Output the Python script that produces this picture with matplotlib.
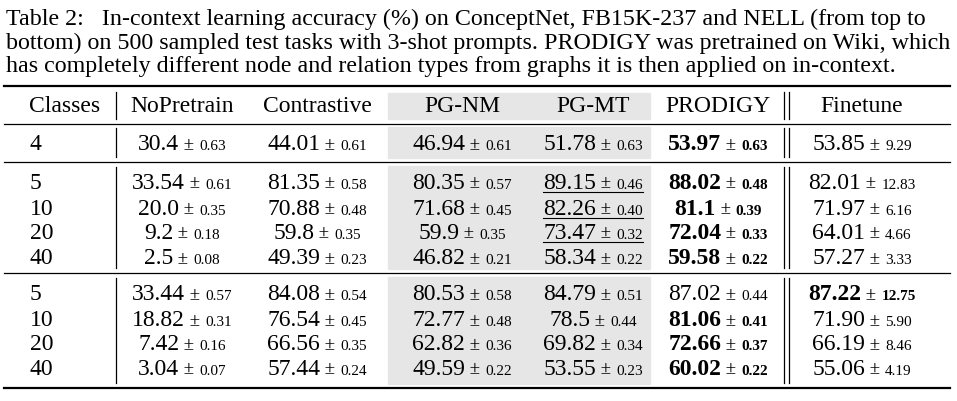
import matplotlib.pyplot as plt
from matplotlib.lines import Line2D
from matplotlib.patches import Rectangle

plt.rcParams['font.family'] = ['Liberation Serif', 'DejaVu Serif']

caption = [
    "Table 2:   In-context learning accuracy (%) on ConceptNet, FB15K-237 and NELL (from top to",
    "bottom) on 500 sampled test tasks with 3-shot prompts. PRODIGY was pretrained on Wiki, which",
    "has completely different node and relation types from graphs it is then applied on in-context.",
]
columns = ["NoPretrain", "Contrastive", "PG-NM", "PG-MT", "PRODIGY", "Finetune"]
classes = [["4"], ["5", "10", "20", "40"], ["5", "10", "20", "40"]]
means = [
    [["30.4", "44.01", "46.94", "51.78", "53.97", "53.85"]],
    [["33.54", "81.35", "80.35", "89.15", "88.02", "82.01"],
     ["20.0", "70.88", "71.68", "82.26", "81.1", "71.97"],
     ["9.2", "59.8", "59.9", "73.47", "72.04", "64.01"],
     ["2.5", "49.39", "46.82", "58.34", "59.58", "57.27"]],
    [["33.44", "84.08", "80.53", "84.79", "87.02", "87.22"],
     ["18.82", "76.54", "72.77", "78.5", "81.06", "71.90"],
     ["7.42", "66.56", "62.82", "69.82", "72.66", "66.19"],
     ["3.04", "57.44", "49.59", "53.55", "60.02", "55.06"]],
]
stds = [
    [["0.63", "0.61", "0.61", "0.63", "0.63", "9.29"]],
    [["0.61", "0.58", "0.57", "0.46", "0.48", "12.83"],
     ["0.35", "0.48", "0.45", "0.40", "0.39", "6.16"],
     ["0.18", "0.35", "0.35", "0.32", "0.33", "4.66"],
     ["0.08", "0.23", "0.21", "0.22", "0.22", "3.33"]],
    [["0.57", "0.54", "0.58", "0.51", "0.44", "12.75"],
     ["0.31", "0.45", "0.48", "0.44", "0.41", "5.90"],
     ["0.16", "0.35", "0.36", "0.34", "0.37", "8.46"],
     ["0.07", "0.24", "0.22", "0.23", "0.22", "4.19"]],
]
# (group, row, col) flags
bold = {(0, 0, 4), (1, 0, 4), (1, 1, 4), (1, 2, 4), (1, 3, 4),
        (2, 0, 5), (2, 1, 4), (2, 2, 4), (2, 3, 4)}
underline = {(1, 0, 3), (1, 1, 3), (1, 2, 3)}

W, H = 957, 401
fig = plt.figure(figsize=(W / 100, H / 100), dpi=100)
ax = fig.add_axes([0, 0, 1, 1])
ax.set_xlim(0, W)
ax.set_ylim(H, 0)
ax.axis('off')
r = fig.canvas.get_renderer()

def width(t):
    return t.get_window_extent(renderer=r).width

for i, line in enumerate(caption):
    ax.text(6, 17 + i * 23.5, line, fontsize=17.3, va='center_baseline', ha='left')

col_x = [182, 317, 462, 593, 718, 862]
header_y = 104
group_y = [[142], [181, 207, 231, 256], [292, 318, 342, 367]]
rules = [(86, 1.6), (124, 0.9), (162, 0.9), (273, 0.9), (388, 1.6)]

# gray background for PG columns
for y0, y1 in [(93, 119), (127, 158), (166, 269), (277, 384)]:
    ax.add_patch(Rectangle((388, y0), 262, y1 - y0, color='#e6e6e6', zorder=0))

for y, lw in rules:
    ax.add_line(Line2D([4, 950], [y, y], color='black', lw=lw))

# vertical separators
for y0, y1 in [(92, 119), (128, 157), (167, 268), (278, 383)]:
    ax.add_line(Line2D([116, 116], [y0, y1], color='black', lw=0.9))
    ax.add_line(Line2D([784, 784], [y0, y1], color='black', lw=0.9))
    ax.add_line(Line2D([789, 789], [y0, y1], color='black', lw=0.9))

ax.text(65, header_y, "Classes", fontsize=17, ha='center', va='center_baseline')
for x, c in zip(col_x, columns):
    ax.text(x, header_y, c, fontsize=17, ha='center', va='center_baseline')

for g in range(3):
    for ri, y in enumerate(group_y[g]):
        ax.text(30, y, classes[g][ri], fontsize=17, ha='left', va='center_baseline')
        for ci, x in enumerate(col_x):
            fw = 'bold' if (g, ri, ci) in bold else 'normal'
            t1 = ax.text(0, y, means[g][ri][ci], fontsize=17, fontweight=fw,
                         ha='left', va='center_baseline')
            t2 = ax.text(0, y + 1, " \u00b1 ", fontsize=13.5, ha='left', va='center_baseline')
            t3 = ax.text(0, y + 3, stds[g][ri][ci], fontsize=11, fontweight=fw,
                         ha='left', va='center_baseline')
            w1, w2, w3 = width(t1), width(t2), width(t3)
            x0 = x - (w1 + w2 + w3) / 2
            t1.set_x(x0)
            t2.set_x(x0 + w1)
            t3.set_x(x0 + w1 + w2)
            if (g, ri, ci) in underline:
                ax.add_line(Line2D([x0, x0 + w1 + w2 + w3], [y + 11, y + 11],
                                   color='black', lw=0.8))

fig.savefig('out.png', dpi=100)
